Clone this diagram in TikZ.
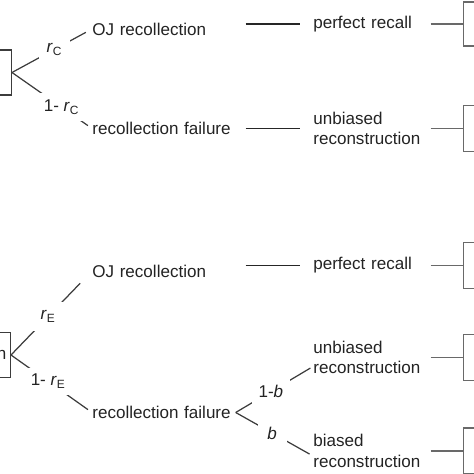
\documentclass[tikz,border=0pt]{standalone}
\usepackage{fontspec}
\setmainfont{Liberation Sans}
\usepackage{tikz}
\usetikzlibrary{calc}
\definecolor{inkgray}{RGB}{35,35,35}
\definecolor{linegray}{RGB}{60,60,60}
\definecolor{stubgray}{RGB}{105,105,105}

\begin{document}
\begin{tikzpicture}[
  font=\fontsize{9.7}{11.6}\selectfont, text=inkgray,
  condbox/.style={draw=linegray, line width=0.75pt, anchor=east,
                  minimum height=0.9cm, minimum width=1.2cm},
  outbox/.style ={draw=stubgray, line width=0.75pt, anchor=west,
                  minimum height=0.92cm, minimum width=1.0cm},
  evnode/.style ={anchor=west, inner sep=0pt, text width=2.8cm, align=left},
  resnode/.style={anchor=west, inner sep=0pt, text width=2.2cm, align=left},
  plab/.style={fill=white, inner sep=#1},
  plab/.default=0.15cm,
  br/.style={draw=linegray, line width=0.7pt},
  lnk/.style={draw=black!85, line width=0.75pt, shorten <=0.26cm, shorten >=0.26cm},
  stub/.style={draw=stubgray, line width=0.75pt, shorten <=0.14cm},
]

\useasboundingbox (0,0) rectangle (9.48,-9.48);
\clip (0,0) rectangle (9.48,-9.48);

% upper tree
\node[condbox] (ctl) at (0.24,-1.45) {};

\node[evnode] (ojc1) at (1.84,-0.58) {OJ recollection};
\node[evnode] (rf1)  at (1.84,-2.57) {recollection failure};

\node[resnode] (pr1) at (6.26,-0.48) {perfect recall};
\node[resnode] (ur1) at (6.26,-2.57) {unbiased\\reconstruction};

\node[outbox, minimum height=0.88cm] (o1) at (9.26,-0.48) {};
\node[outbox] (o2) at (9.26,-2.57) {};

\draw[br, shorten >=0.14cm] (ctl.east)
  -- node[plab=0.155cm, pos=.53] (rc) {\textit{r}\textsubscript{C}} (ojc1.west);
\draw[br, shorten >=0.1cm] (ctl.east)
  -- node[plab=0.135cm, pos=.62] (nrc) {1- \textit{r}\textsubscript{C}} (rf1.west);

\draw[lnk]  (ojc1.east |- pr1.west) -- (pr1.west);
\draw[lnk]  (rf1.east |- ur1.west)  -- (ur1.west);
\draw[stub] (pr1.east) -- (o1.west);
\draw[stub] (ur1.east) -- (o2.west);

% lower tree
\node[condbox, text width=1.04cm, align=right, inner xsep=0.08cm] (exp)
  at (0.22,-7.10) {n};

\node[evnode] (ojc2) at (1.84,-5.42) {OJ recollection};
\node[evnode] (rf2)  at (1.84,-8.25) {recollection failure};

\node[resnode] (pr2) at (6.26,-5.31) {perfect recall};
\node[resnode] (ur2) at (6.26,-7.15) {unbiased\\reconstruction};
\node[resnode] (br2) at (6.26,-9.02) {biased\\reconstruction};

\node[outbox] (o3) at (9.26,-5.31) {};
\node[outbox] (o4) at (9.26,-7.15) {};
\node[outbox] (o5) at (9.26,-9.02) {};

\draw[br, shorten >=0.34cm] (exp.east)
  -- node[plab=0.17cm, pos=.46] (re) {\textit{r}\textsubscript{E}} (ojc2.west);
\draw[br, shorten >=0.1cm] (exp.east)
  -- node[plab=0.13cm, pos=.46] (nre) {1- \textit{r}\textsubscript{E}} (rf2.west);

\draw[br, shorten >=0.06cm] ([xshift=0.06cm]rf2.east)
  -- node[plab=0.135cm, pos=.455] (nb) {1-\textit{b}} ([yshift=-0.18cm]ur2.west);
\draw[br, shorten >=0.08cm] ([xshift=0.06cm]rf2.east)
  -- node[plab=0.195cm, pos=.47] (bb) {\textit{b}} ([yshift=-0.1cm]br2.west);

\draw[lnk]  (ojc2.east |- pr2.west) -- (pr2.west);
\draw[stub] (pr2.east) -- (o3.west);
\draw[stub] (ur2.east) -- (o4.west);
\draw[stub] (br2.east) -- (o5.west);

\end{tikzpicture}
\end{document}
